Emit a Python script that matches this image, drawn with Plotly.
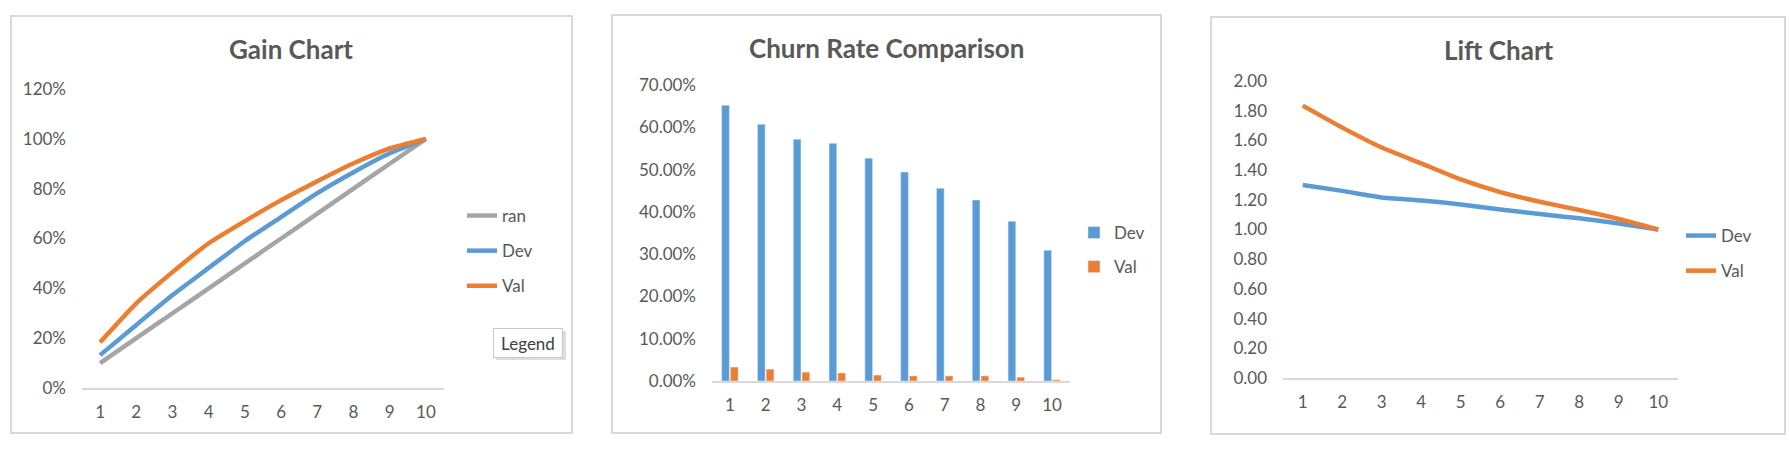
import plotly.graph_objects as go

W, H = 1789, 454

deciles = list(range(1, 11))

# Gain chart (cumulative share of churners captured)
gain_ran = [0.10, 0.20, 0.30, 0.40, 0.50, 0.60, 0.70, 0.80, 0.90, 1.00]
gain_dev = [0.132, 0.253, 0.373, 0.482, 0.590, 0.686, 0.782, 0.866, 0.942, 1.00]
gain_val = [0.184, 0.340, 0.465, 0.581, 0.670, 0.754, 0.830, 0.902, 0.962, 1.00]

# Churn rate per decile
churn_dev = [0.652, 0.607, 0.572, 0.562, 0.527, 0.494, 0.456, 0.428, 0.378, 0.309]
churn_val = [0.033, 0.028, 0.021, 0.019, 0.014, 0.012, 0.012, 0.012, 0.009, 0.003]

# Lift per decile
lift_dev = [1.300, 1.260, 1.216, 1.196, 1.169, 1.135, 1.104, 1.075, 1.041, 1.00]
lift_val = [1.834, 1.686, 1.552, 1.445, 1.337, 1.252, 1.187, 1.131, 1.071, 1.00]

GRAY = "#A5A5A5"
BLUE = "#5B9BD5"
ORANGE = "#ED7D31"
TXT = "#595959"
LINE = "#D9D9D9"
FONT = "Lato"


def fx(px):
    return px / W


def fy(py):
    return 1 - py / H


fig = go.Figure()

# gain chart
for name, vals, col in [("ran", gain_ran, GRAY), ("Dev", gain_dev, BLUE), ("Val", gain_val, ORANGE)]:
    fig.add_trace(go.Scatter(x=deciles, y=vals, name=name, mode="lines",
                             line=dict(color=col, width=4.5, shape="spline", smoothing=0.5),
                             xaxis="x", yaxis="y", legend="legend", legendgroup="g" + name))

# churn bars
fig.add_trace(go.Bar(x=deciles, y=churn_dev, name="Dev", marker_color=BLUE,
                     xaxis="x2", yaxis="y2", legend="legend2", legendgroup="cDev"))
fig.add_trace(go.Bar(x=deciles, y=churn_val, name="Val", marker_color=ORANGE,
                     xaxis="x2", yaxis="y2", legend="legend2", legendgroup="cVal"))

# lift chart
for name, vals, col in [("Dev", lift_dev, BLUE), ("Val", lift_val, ORANGE)]:
    fig.add_trace(go.Scatter(x=deciles, y=vals, name=name, mode="lines",
                             line=dict(color=col, width=4.5, shape="spline", smoothing=0.5),
                             xaxis="x3", yaxis="y3", legend="legend3", legendgroup="l" + name))

tickfont = dict(family=FONT, size=17, color=TXT)


def xax(x0, x1):
    return dict(domain=[fx(x0), fx(x1)], range=[0.5, 10.5], tickvals=deciles,
                showline=True, linecolor=LINE, linewidth=1.5, showgrid=False,
                zeroline=False, ticks="", tickfont=tickfont, ticklabelstandoff=8,
                fixedrange=True, automargin=False)


def yax(ytop, ybot, rng, dtick, fmt, xname):
    return dict(domain=[fy(ybot), fy(ytop)], range=rng, dtick=dtick, tickformat=fmt,
                showline=False, showgrid=False, zeroline=False, ticks="",
                tickfont=tickfont, ticklabelstandoff=15, anchor=xname, fixedrange=True,
                automargin=False)


legfont = dict(family=FONT, size=17, color=TXT)


def leg(x, ytop, gap):
    return dict(x=fx(x), y=fy(ytop), xanchor="left", yanchor="top", font=legfont,
                bgcolor="rgba(0,0,0,0)", traceorder="grouped", tracegroupgap=gap)


fig.update_layout(
    width=W, height=H,
    margin=dict(l=0, r=0, t=0, b=0, pad=0, autoexpand=False),
    paper_bgcolor="white", plot_bgcolor="white",
    barmode="group", bargap=0.51, bargroupgap=0.12,
    xaxis=dict(xax(82, 444), anchor="y"),
    yaxis=yax(89, 388, [0, 1.2], 0.2, ".0%", "x"),
    xaxis2=dict(xax(712, 1070), anchor="y2"),
    yaxis2=yax(85, 381, [0, 0.7], 0.1, ".2%", "x2"),
    xaxis3=dict(xax(1283, 1678), anchor="y3"),
    yaxis3=yax(81, 378, [0, 2.0], 0.2, ".2f", "x3"),
    legend=leg(462, 198, 10),
    legend2=leg(1074, 215, 9),
    legend3=leg(1681, 218, 10),
    showlegend=True,
)

# panel frames
for x0, y0, x1, y1 in [(11, 16, 572, 433), (612, 15, 1161, 433), (1211, 17, 1785, 434)]:
    fig.add_shape(type="rect", xref="paper", yref="paper",
                  x0=fx(x0), x1=fx(x1), y0=fy(y1), y1=fy(y0),
                  line=dict(color=LINE, width=2), layer="below")

# titles
for text, cx, cy in [("Gain Chart", 291, 49), ("Churn Rate Comparison", 886, 48), ("Lift Chart", 1499, 50)]:
    fig.add_annotation(text="<b>" + text + "</b>", x=fx(cx), y=fy(cy), xref="paper", yref="paper",
                       showarrow=False, xanchor="center", yanchor="middle",
                       font=dict(family=FONT, size=26, color=TXT))

# the "Legend" tooltip left in the screenshot
fig.add_shape(type="rect", xref="paper", yref="paper",
              x0=fx(496), x1=fx(566), y0=fy(360), y1=fy(331),
              line=dict(width=0), fillcolor="rgba(0,0,0,0.13)", layer="above")
fig.add_annotation(text="Legend", x=fx(528), y=fy(343), xref="paper", yref="paper",
                   showarrow=False, xanchor="center", yanchor="middle",
                   width=60, height=20, align="center",
                   font=dict(family=FONT, size=17, color="#404040"),
                   bgcolor="white", bordercolor="#C8C8C8", borderwidth=1, borderpad=4)

# drop the default page margin so the figure sits at the window origin
fig.write_html("out.html", config={"displayModeBar": False},
               post_script="document.body.style.margin='0';")
